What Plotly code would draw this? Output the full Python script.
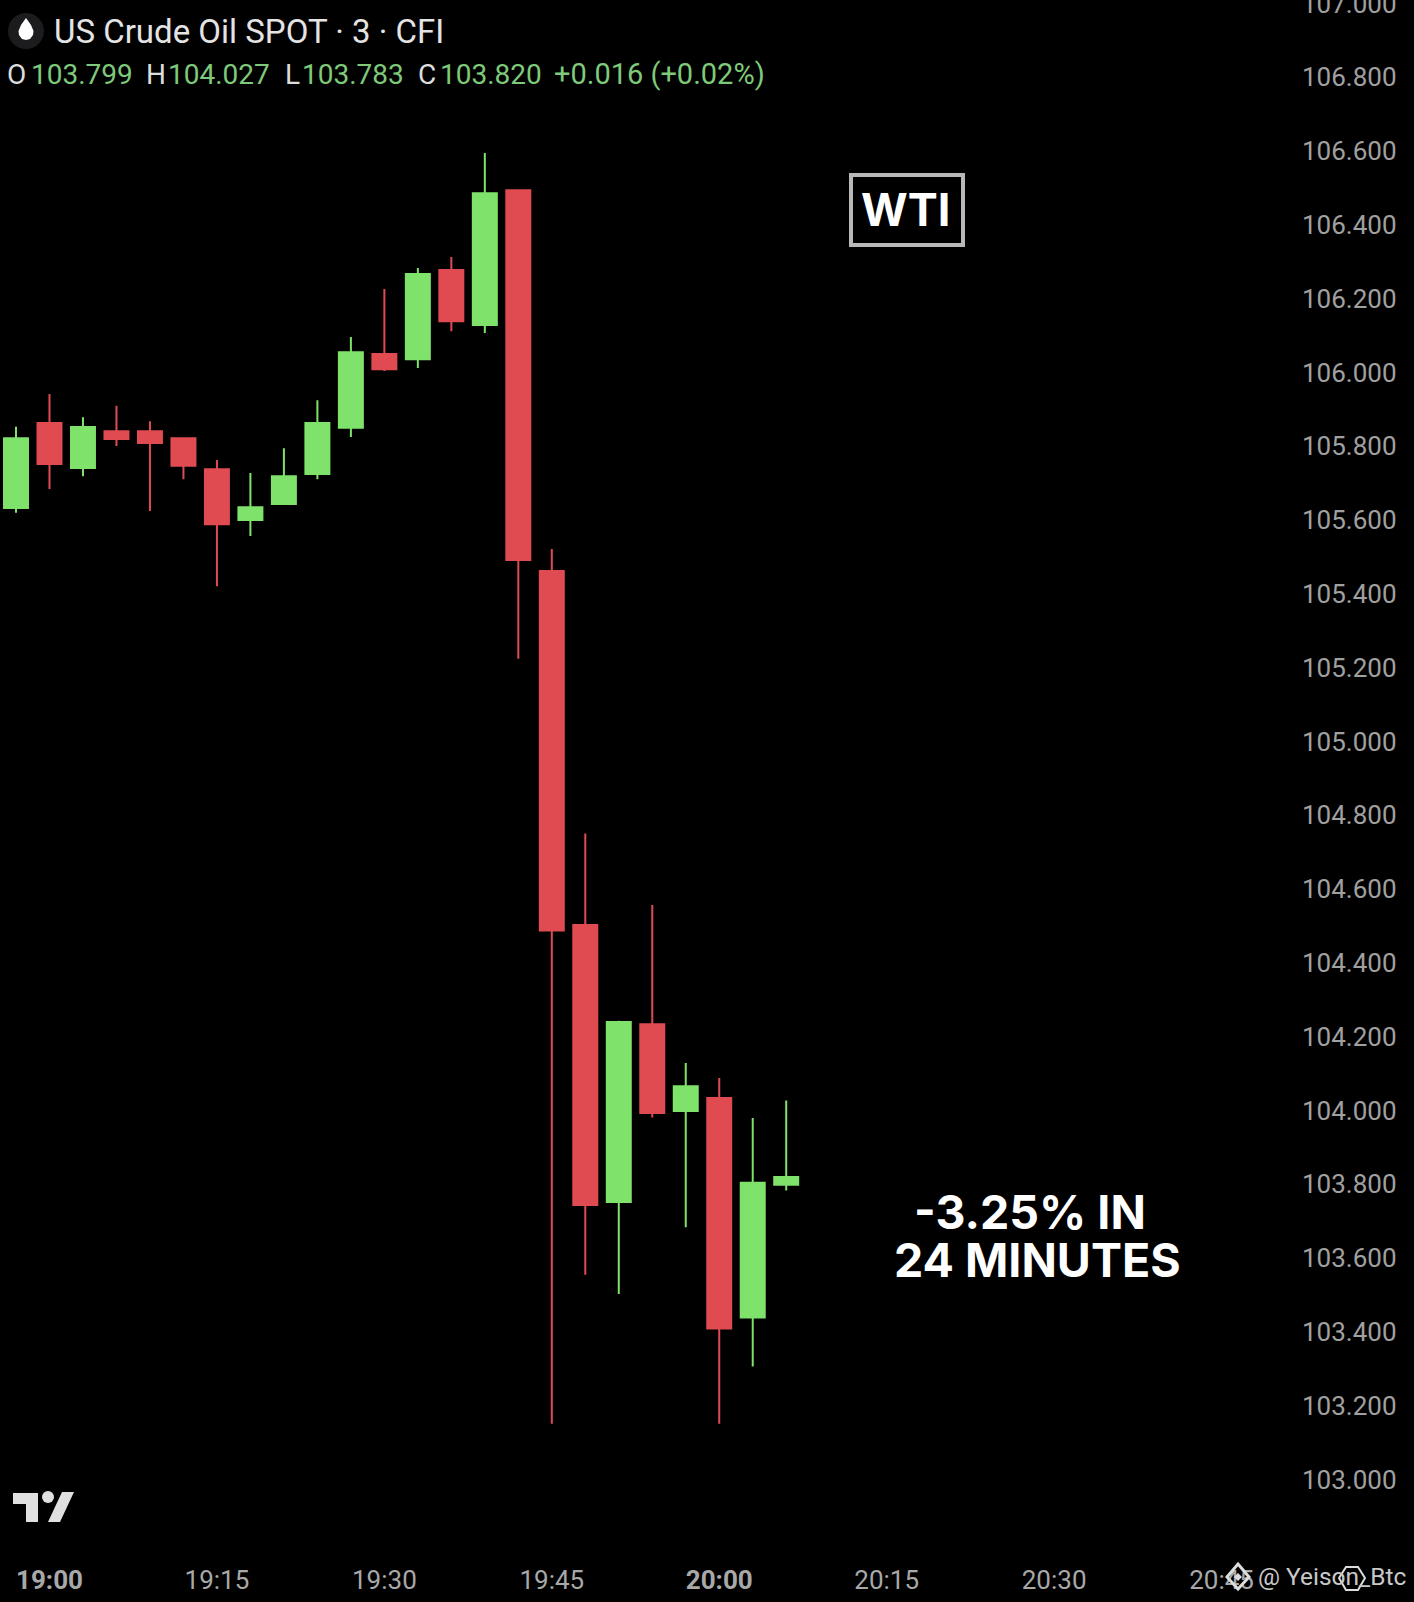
import plotly.graph_objects as go

# candles, 3 minute bars
times = [
    "18:57", "19:00", "19:03", "19:06", "19:09", "19:12", "19:15", "19:18",
    "19:21", "19:24", "19:27", "19:30", "19:33", "19:36", "19:39", "19:42",
    "19:45", "19:48", "19:51", "19:54", "19:57", "20:00", "20:03", "20:06",
]
opens = [
    105.633, 105.863, 105.741, 105.841, 105.841, 105.822, 105.738, 105.600,
    105.644, 105.725, 105.850, 106.050, 106.036, 106.278, 106.129, 106.494,
    105.462, 104.503, 103.752, 104.234, 103.999, 104.034, 103.439, 103.799,
]
highs = [
    105.853, 105.942, 105.879, 105.910, 105.868, 105.822, 105.763, 105.728,
    105.795, 105.925, 106.096, 106.226, 106.283, 106.313, 106.595, 106.494,
    105.522, 104.751, 104.243, 104.557, 104.129, 104.088, 103.980, 104.027,
]
lows = [
    105.620, 105.684, 105.719, 105.801, 105.625, 105.711, 105.421, 105.557,
    105.641, 105.711, 105.825, 106.004, 106.012, 106.112, 106.107, 105.224,
    103.151, 103.555, 103.503, 103.981, 103.684, 103.151, 103.306, 103.783,
]
closes = [
    105.822, 105.752, 105.852, 105.820, 105.809, 105.747, 105.589, 105.635,
    105.719, 105.863, 106.055, 106.009, 106.267, 106.139, 106.486, 105.492,
    104.488, 103.744, 104.240, 103.993, 104.066, 103.409, 103.804, 103.820,
]

x_ticks = ["19:00", "19:15", "19:30", "19:45", "20:00", "20:15", "20:30", "20:45"]
x_labels = ["<b>19:00</b>", "19:15", "19:30", "19:45", "<b>20:00</b>", "20:15", "20:30", "20:45"]
y_ticks = [103 + 0.2 * i for i in range(21)]
y_labels = [f"{v:.3f}" for v in y_ticks]

day = "2024-01-01 "
GREEN = "#7FE36B"
RED = "#E04B52"
LABEL_GREEN = "#7FC97A"
FONT = "Roboto"
BOLD_FONT = "Inter"
W, H = 1414, 1602
PLOT_W, PLOT_H = 1301, 1562


def fx(v):
    return v / PLOT_W


def fy(v):
    return 1 - v / PLOT_H


def path(points):
    return "M " + " L ".join(f"{fx(a):.5f},{fy(b):.5f}" for a, b in points) + " Z"


fig = go.Figure(
    go.Candlestick(
        x=[day + t for t in times],
        open=opens,
        high=highs,
        low=lows,
        close=closes,
        whiskerwidth=0,
        increasing=dict(line=dict(color=GREEN, width=2), fillcolor=GREEN),
        decreasing=dict(line=dict(color=RED, width=2), fillcolor=RED),
        showlegend=False,
    )
)


def label(x, y, text, size, color, anchor="left", family=FONT):
    fig.add_annotation(
        x=fx(x), y=fy(y), xref="paper", yref="paper", text=text, showarrow=False,
        xanchor=anchor, yanchor="middle", font=dict(family=family, size=size, color=color)
    )


# header
label(52, 31, "US Crude Oil SPOT · 3 · CFI", 33, "#E4E4E4")
label(5, 74, "O", 28, "#DDDDDD")
label(29, 74, "103.799", 28, LABEL_GREEN)
label(144, 74, "H", 28, "#DDDDDD")
label(166, 74, "104.027", 28, LABEL_GREEN)
label(283, 74, "L", 28, "#DDDDDD")
label(300, 74, "103.783", 28, LABEL_GREEN)
label(416, 74, "C", 28, "#DDDDDD")
label(438, 74, "103.820", 28, LABEL_GREEN)
label(552, 74, "+0.016 (+0.02%)", 29, LABEL_GREEN)

# big labels
label(905, 209, "<b>WTI</b>", 45, "#FFFFFF", anchor="center", family=BOLD_FONT)
label(1030, 1212, "<b>-3.25% IN</b>", 46.5, "#FFFFFF", anchor="center", family=BOLD_FONT)
label(1037, 1260, "<b>24 MINUTES</b>", 46.5, "#FFFFFF", anchor="center", family=BOLD_FONT)
label(1256, 1576, "@ Yeison_Btc", 24.5, "#C8C8C8")

fig.add_shape(
    type="rect", xref="paper", yref="paper", x0=fx(851), x1=fx(963), y0=fy(175), y1=fy(245),
    line=dict(color="#B8B8B8", width=4),
)
# oil drop icon
fig.add_shape(
    type="circle", xref="paper", yref="paper", x0=fx(8), x1=fx(44), y0=fy(13), y1=fy(49),
    fillcolor="#1C1C1E", line_width=0,
)
fig.add_shape(
    type="path", xref="paper", yref="paper", fillcolor="#FFFFFF", line_width=0,
    path=path([
        (26, 18), (21, 25), (18.5, 31), (19, 35), (22, 39), (26, 40),
        (30, 39), (33, 35), (33.5, 31), (31, 25),
    ]),
)
# tradingview logo
fig.add_shape(
    type="path", xref="paper", yref="paper", fillcolor="#E0E0E0", line_width=0,
    path=path([(13, 1493), (38, 1493), (38, 1522), (26, 1522), (26, 1504), (13, 1504)]),
)
fig.add_shape(
    type="path", xref="paper", yref="paper", fillcolor="#E0E0E0", line_width=0,
    path=path([(62, 1492), (74, 1492), (60, 1522), (48, 1522)]),
)
fig.add_shape(
    type="circle", xref="paper", yref="paper", x0=fx(42), x1=fx(54), y0=fy(1491), y1=fy(1503),
    fillcolor="#E0E0E0", line_width=0,
)
# watermark icons
fig.add_shape(
    type="path", xref="paper", yref="paper", line=dict(color="#DCDCDC", width=3),
    path=path([(1238, 1564), (1249, 1577), (1238, 1589), (1227, 1577)]),
)
fig.add_shape(
    type="path", xref="paper", yref="paper", fillcolor="#DCDCDC", line_width=0,
    path=path([(1238, 1573), (1242, 1577), (1238, 1581), (1234, 1577)]),
)
fig.add_shape(
    type="path", xref="paper", yref="paper", line=dict(color="#DCDCDC", width=2),
    path=path([(1339, 1578), (1346, 1567), (1358, 1567), (1365, 1578), (1358, 1590), (1346, 1590)]),
)

fig.update_layout(
    width=W,
    height=H,
    margin=dict(l=0, r=W - PLOT_W, t=0, b=H - PLOT_H, autoexpand=False),
    paper_bgcolor="#000000",
    plot_bgcolor="#000000",
    boxgap=0.284,
    boxgroupgap=0,
    font=dict(family=FONT, color="#9A9A9A"),
    xaxis=dict(
        type="date",
        range=[day + "18:55:34", day + "20:52:07"],
        rangeslider_visible=False,
        showgrid=False,
        zeroline=False,
        showline=False,
        ticks="",
        tickvals=[day + t for t in x_ticks],
        ticktext=x_labels,
        tickfont=dict(size=26, color="#A8A8A8"),
        ticklabeloverflow="allow",
    ),
    yaxis=dict(
        side="right",
        range=[102.7765, 107.0095],
        showgrid=False,
        zeroline=False,
        showline=False,
        ticks="",
        tickvals=y_ticks,
        ticktext=y_labels,
        tickfont=dict(size=26, color="#A0A0A0"),
        ticklabeloverflow="allow",
    ),
)

# body margin would leave a white frame round the chart
fig.write_html(
    "out.html",
    config=dict(displayModeBar=False),
    post_script="document.body.style.margin='0';",
)
